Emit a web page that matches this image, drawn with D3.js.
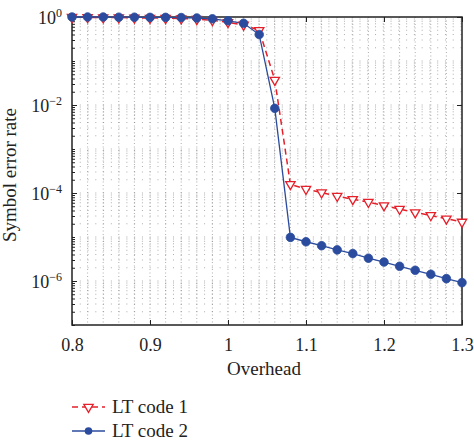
<!DOCTYPE html>
<html>
<head>
<meta charset="utf-8">
<script src="https://cdn.jsdelivr.net/npm/d3@7"></script>
<style>
  body { margin: 0; background: #fff; }
  svg { display: block; }
  text { font-family: "Liberation Serif", "DejaVu Serif", serif; fill: #222; }
</style>
</head>
<body>
<svg id="chart" width="474" height="445"></svg>
<script>
// donnees
const overhead = [0.80, 0.82, 0.84, 0.86, 0.88, 0.90, 0.92, 0.94, 0.96, 0.98, 1.00, 1.02, 1.04,
                  1.06, 1.08, 1.10, 1.12, 1.14, 1.16, 1.18, 1.20, 1.22, 1.24, 1.26, 1.28, 1.30];
const ltCode1 = [0.99, 0.98, 0.97, 0.97, 0.96, 0.95, 0.94, 0.92, 0.89, 0.84, 0.76, 0.66, 0.50,
                 0.037, 1.58e-4, 1.23e-4, 1.02e-4, 8.5e-5, 7.2e-5, 6.2e-5, 5.2e-5, 4.3e-5, 3.6e-5,
                 3.1e-5, 2.6e-5, 2.2e-5];
const ltCode2 = [1.0, 1.0, 1.0, 0.99, 0.99, 0.98, 0.98, 0.97, 0.95, 0.91, 0.82, 0.72, 0.40,
                 0.0084, 9.8e-6, 7.8e-6, 6.35e-6, 5.1e-6, 4.2e-6, 3.3e-6, 2.7e-6, 2.16e-6, 1.75e-6,
                 1.42e-6, 1.13e-6, 9.2e-7];
const xTicks = [0.8, 0.9, 1.0, 1.1, 1.2, 1.3];
const xTickLabels = ["0.8", "0.9", "1", "1.1", "1.2", "1.3"];
const yTickExp = [0, -2, -4, -6];
const seriesNames = ["LT code 1", "LT code 2"];

// mise en page
const margin = {top: 17, right: 12, bottom: 120, left: 72};
const width = 474 - margin.left - margin.right;
const height = 445 - margin.top - margin.bottom;
const serif = "'Liberation Serif', 'DejaVu Serif', serif";

const svg = d3.select("#chart");
const g = svg.append("g").attr("transform", `translate(${margin.left},${margin.top})`);

const x = d3.scaleLinear().domain([0.8, 1.3]).range([0, width]);
const y = d3.scaleLog().domain([1e-7, 1]).range([height, 0]);

// graduations mineures log
let minorY = [];
for (let e = -7; e < 0; e++) {
  for (let m = 1; m < 10; m++) minorY.push(m * Math.pow(10, e));
}
minorY.push(1);
const majorY = yTickExp.map(e => Math.pow(10, e));
const gridX = d3.range(41, 65).map(i => i / 50);

// grille pointillee
g.append("g").selectAll("line.gx")
  .data(gridX).enter().append("line")
  .attr("x1", d => x(d)).attr("x2", d => x(d))
  .attr("y1", 0).attr("y2", height)
  .attr("stroke", "#777").attr("stroke-width", 0.6)
  .attr("stroke-dasharray", "1,2.5");
g.append("g").selectAll("line.gy")
  .data(minorY.filter(d => d > 1e-7 && d < 1)).enter().append("line")
  .attr("x1", 0).attr("x2", width)
  .attr("y1", d => y(d)).attr("y2", d => y(d))
  .attr("stroke", "#777").attr("stroke-width", 0.6)
  .attr("stroke-dasharray", "1,6.77");

// axes
const xAxis = d3.axisBottom(x).tickValues(xTicks).tickSize(-5).tickFormat("");
const gx = g.append("g").attr("transform", `translate(0,${height})`).call(xAxis);
const yMinor = d3.axisLeft(y).tickValues(minorY).tickSize(-3).tickFormat("");
g.append("g").call(yMinor);
const yAxis = d3.axisLeft(y).tickValues(majorY).tickSize(-5).tickFormat("");
const gy = g.append("g").call(yAxis);
g.append("g").call(d3.axisTop(x).tickValues(xTicks).tickSize(-5).tickFormat(""));
g.append("g").attr("transform", `translate(${width},0)`)
  .call(d3.axisRight(y).tickValues(majorY).tickSize(-5).tickFormat(""));
g.selectAll(".domain").remove();
g.selectAll(".tick line").attr("stroke", "#222").attr("stroke-width", 1);

g.append("rect").attr("width", width).attr("height", height)
  .attr("fill", "none").attr("stroke", "#222").attr("stroke-width", 1.5);

// etiquettes x
gx.selectAll(".tick").append("text")
  .attr("y", 26).attr("text-anchor", "middle")
  .attr("font-family", serif).style("font-size", "18px")
  .text((d, i) => xTickLabels[i]);

// etiquettes y en puissances de 10
const lab = gy.selectAll(".tick").append("text")
  .attr("x", -10).attr("dy", 6).attr("text-anchor", "end")
  .attr("font-family", serif).style("font-size", "18px");
lab.append("tspan").text("10");
lab.append("tspan").attr("dy", -7).style("font-size", "12px")
  .text((d, i) => yTickExp[i] === 0 ? "0" : "\u2212" + Math.abs(yTickExp[i]));

// titres des axes
g.append("text").attr("x", width / 2 - 3).attr("y", height + 50)
  .attr("text-anchor", "middle").attr("font-family", serif).style("font-size", "19px").text("Overhead");
svg.append("text").attr("transform", "translate(16,175) rotate(-90)")
  .attr("text-anchor", "middle").attr("font-family", serif).style("font-size", "19px").text("Symbol error rate");

// courbes
const line = d3.line().x(d => x(d[0])).y(d => y(d[1]));
const red = "#e5202a", blue = "#2b4c9e";
const d1 = overhead.map((o, i) => [o, ltCode1[i]]);
const d2 = overhead.map((o, i) => [o, ltCode2[i]]);
const tri = d3.symbol().type(d3.symbolTriangle).size(38);

g.append("path").datum(d1).attr("d", line)
  .attr("fill", "none").attr("stroke", red).attr("stroke-width", 1.5)
  .attr("stroke-dasharray", "6,4");
g.append("path").datum(d2).attr("d", line)
  .attr("fill", "none").attr("stroke", blue).attr("stroke-width", 1.3);

g.selectAll("path.m1").data(d1).enter().append("path")
  .attr("d", tri)
  .attr("transform", d => `translate(${x(d[0])},${y(d[1])}) rotate(180)`)
  .attr("fill", "#fff").attr("stroke", red).attr("stroke-width", 1.3);
g.selectAll("circle.m2").data(d2).enter().append("circle")
  .attr("cx", d => x(d[0])).attr("cy", d => y(d[1])).attr("r", 4.3)
  .attr("fill", blue).attr("stroke", blue).attr("stroke-width", 0.8);

// legende
const leg = svg.append("g");
const legY = [407, 431];
seriesNames.forEach((name, i) => {
  const row = leg.append("g").attr("transform", `translate(72,${legY[i]})`);
  row.append("line").attr("x1", 0).attr("x2", 33)
    .attr("stroke", i === 0 ? red : blue).attr("stroke-width", 1.5)
    .attr("stroke-dasharray", i === 0 ? "6,4" : null);
  if (i === 0) {
    row.append("path").attr("d", tri).attr("transform", "translate(16.5,0) rotate(180)")
      .attr("fill", "#fff").attr("stroke", red).attr("stroke-width", 1.3);
  } else {
    row.append("circle").attr("cx", 16.5).attr("r", 3.8).attr("fill", blue);
  }
  row.append("text").attr("x", 40).attr("dy", 6)
    .attr("font-family", serif).style("font-size", "19px").text(name);
});
</script>
</body>
</html>
